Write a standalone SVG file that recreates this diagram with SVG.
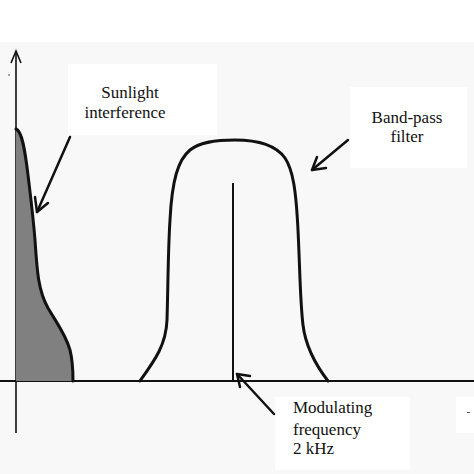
<svg xmlns="http://www.w3.org/2000/svg" width="474" height="474" viewBox="0 0 474 474">
<defs>
<style>
.lbl{font-family:"Liberation Serif","Times New Roman",serif;font-size:17px;fill:#111}
.box{fill:#ffffff}
.ax{stroke:#111;fill:none}
.cur{stroke:#111;stroke-width:3;fill:none;stroke-linecap:round;stroke-linejoin:round}
.ptr{stroke:#111;stroke-width:2.5;fill:none;stroke-linecap:round;stroke-linejoin:round}
</style>
</defs>
<rect x="0" y="0" width="474" height="474" fill="#f8f8f8"/>
<rect x="0" y="0" width="474" height="42" fill="#ffffff"/>
<g id="axes">
<line class="ax" x1="16" y1="51" x2="16" y2="433" stroke-width="1.6"/>
<polyline class="ax" points="11,63 16,51 21,63" stroke-width="1.6"/>
<line class="ax" x1="0" y1="381" x2="474" y2="381" stroke-width="2"/>
<circle cx="9" cy="75" r="0.8" fill="#333"/>
</g>
<g id="sunlight-area">
<path d="M16,129 C22,131 25,150 28,175 C31,200 33,215 35,240 C37,270 38,290 48,308 C58,325 66,335 70,350 C73,362 73,372 73,381 L16,381 Z" fill="#808080"/>
<path class="cur" d="M16,129 C22,131 25,150 28,175 C31,200 33,215 35,240 C37,270 38,290 48,308 C58,325 66,335 70,350 C73,362 73,372 73,381" stroke-width="2.5"/>
</g>
<g id="bandpass-curve">
<path class="cur" d="M140,381 C155,360 166,345 167,320 C168,290 168,250 170,220 C172,180 178,160 190,150 C200,142 215,140 235,140 C255,140 275,144 285,158 C293,170 296,190 298,230 C300,270 300,300 303,325 C306,350 318,368 328,381"/>
</g>
<g id="modulating-line">
<line x1="233" y1="183" x2="233" y2="381" stroke="#111" stroke-width="2"/>
</g>
<g id="label-sunlight">
<rect class="box" x="68" y="64" width="149" height="71"/>
<text class="lbl" x="130" y="98" text-anchor="middle">Sunlight</text>
<text class="lbl" x="125" y="118" text-anchor="middle">interference</text>
</g>
<g id="label-bandpass">
<rect class="box" x="350" y="87" width="117" height="81"/>
<text class="lbl" x="407" y="123" text-anchor="middle">Band-pass</text>
<text class="lbl" x="407" y="142" text-anchor="middle">filter</text>
</g>
<g id="label-modulating">
<rect class="box" x="275" y="397" width="135" height="73"/>
<text class="lbl" x="293" y="413">Modulating</text>
<text class="lbl" x="293" y="435">frequency</text>
<text class="lbl" x="293" y="454">2 kHz</text>
</g>
<g id="label-right">
<rect class="box" x="456" y="397" width="18" height="36"/>
<line x1="467" y1="412.5" x2="470" y2="412.5" stroke="#555" stroke-width="1"/>
</g>
<g id="connectors">
<line class="ptr" x1="70" y1="137" x2="37" y2="212"/>
<polyline class="ptr" points="35,197 37,212 48,203"/>
<line class="ptr" x1="348" y1="140" x2="312" y2="170"/>
<polyline class="ptr" points="317,157 312,170 326,168"/>
<line class="ptr" x1="274" y1="414" x2="237" y2="374"/>
<polyline class="ptr" points="240,387 237,374 250,376"/>
</g>
</svg>
